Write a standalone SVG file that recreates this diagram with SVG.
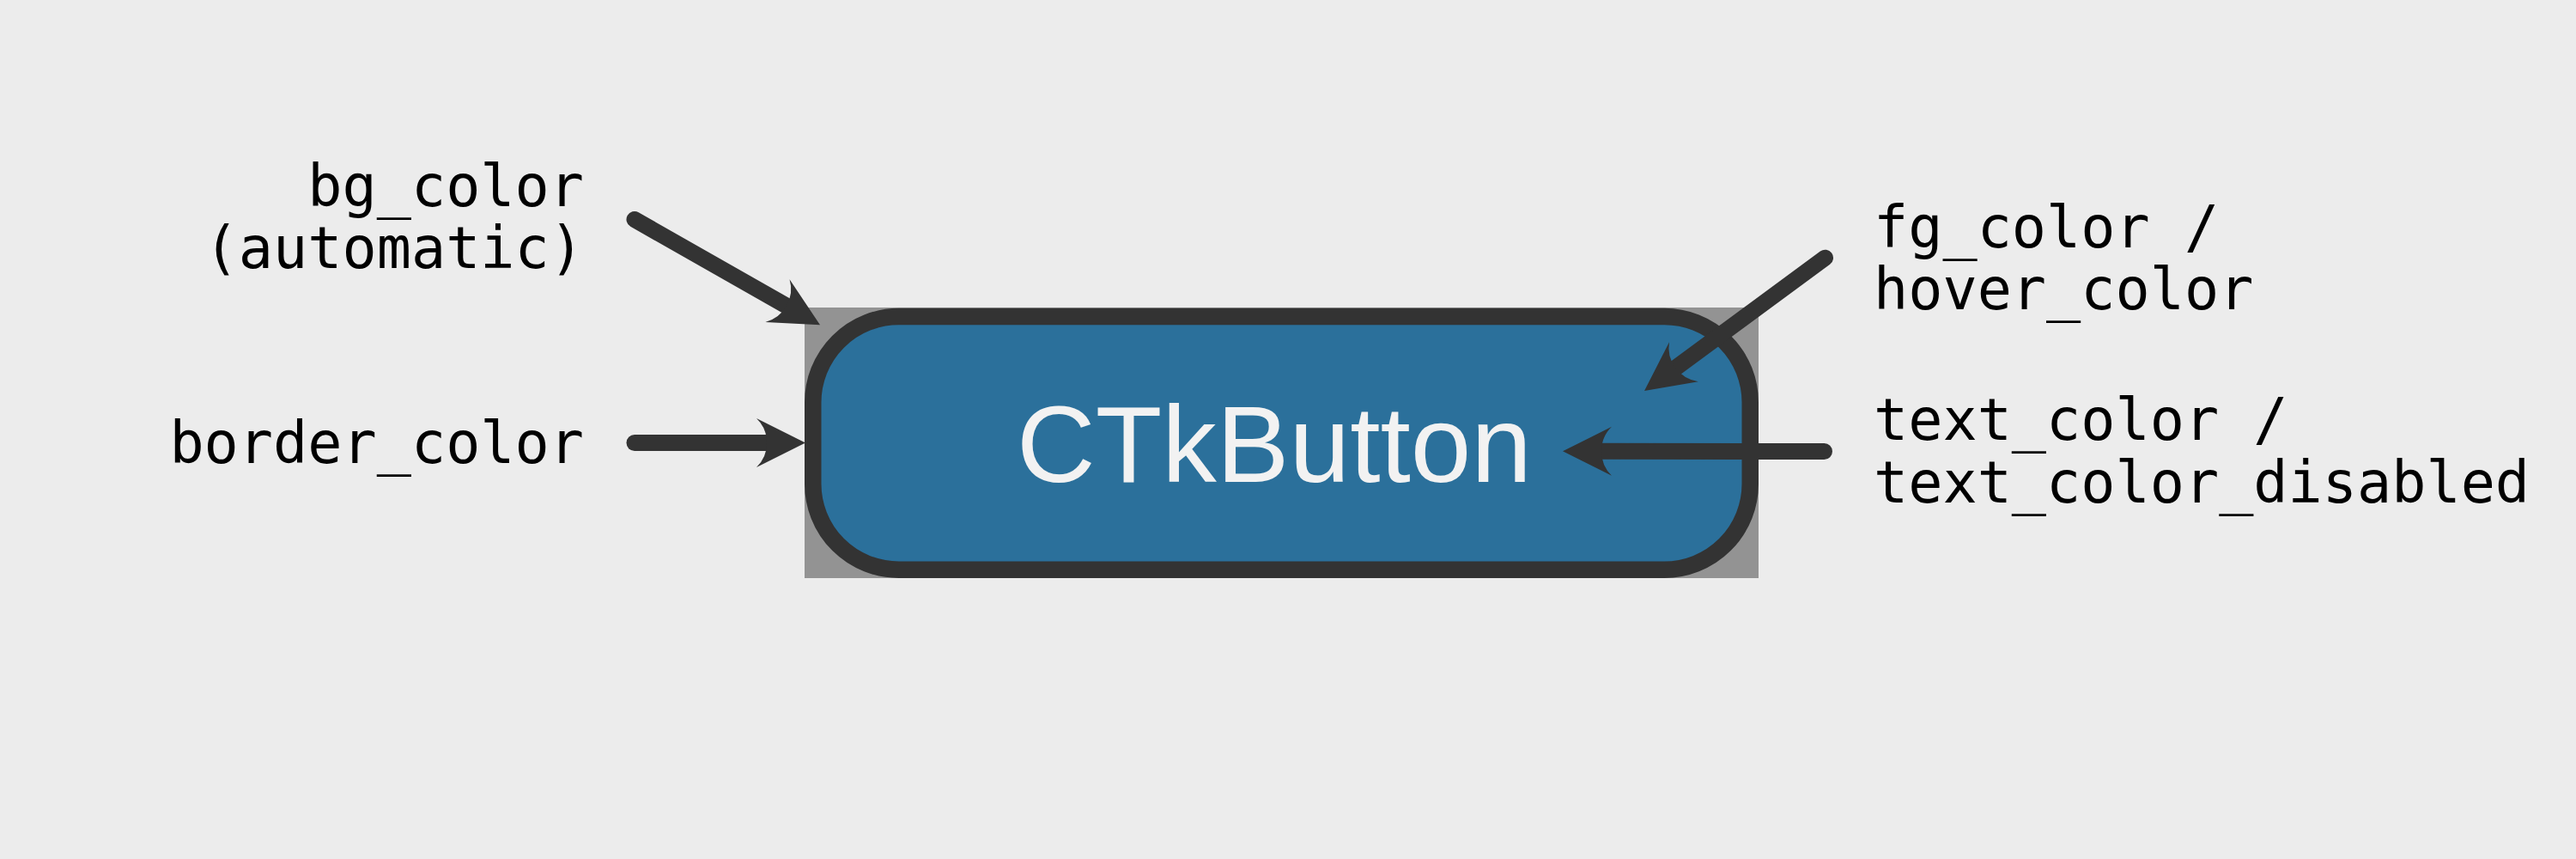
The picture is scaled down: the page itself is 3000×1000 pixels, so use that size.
<svg xmlns="http://www.w3.org/2000/svg" width="3000" height="1000" viewBox="0 0 3000 1000">
  <style>
    .label { font-family: "DejaVu Sans Mono", "Liberation Mono", monospace; font-size: 66.8px; fill: #000000; }
    .conn { fill: none; stroke: #333333; stroke-width: 19; stroke-linecap: round; }
    .title { font-family: "Liberation Sans", Arial, sans-serif; font-size: 127px; fill: #f2f2f2; }
  </style>
  <defs>
    <marker id="head" markerUnits="userSpaceOnUse" markerWidth="120" markerHeight="120" refX="0" refY="0" orient="auto" overflow="visible" viewBox="-60 -60 120 120">
      <path d="M35,0 L-22,-28.5 Q-10,-17 -10,0 Q-10,17 -22,28.5 Z" fill="#333333"/>
    </marker>
  </defs>
  <rect x="0" y="0" width="3000" height="1000" fill="#ececec"/>

  <g id="button">
    <rect x="937" y="358" width="1111" height="315" fill="#939393"/>
    <rect x="946.75" y="368.5" width="1091.5" height="294.75" rx="100" ry="100" fill="#2b709b" stroke="#333333" stroke-width="19.5"/>
    <text class="title" x="1484" y="561" text-anchor="middle">CTkButton</text>
  </g>

  <g id="label-bg">
    <text class="label" x="680" y="240" text-anchor="end">bg_color</text>
    <text class="label" x="680" y="312" text-anchor="end">(automatic)</text>
  </g>
  <g id="label-border">
    <text class="label" x="680" y="539" text-anchor="end">border_color</text>
  </g>
  <g id="label-fg">
    <text class="label" x="2182" y="288">fg_color /</text>
    <text class="label" x="2182" y="360">hover_color</text>
  </g>
  <g id="label-text">
    <text class="label" x="2182" y="512">text_color /</text>
    <text class="label" x="2182" y="585">text_color_disabled</text>
  </g>

  <g id="connectors">
    <path class="conn" d="M739,255.5 L924.6,361" marker-end="url(#head)"/>
    <path class="conn" d="M739,515.5 L903,515.5" marker-end="url(#head)"/>
    <path class="conn" d="M2125.5,300.2 L1943.2,434.3" marker-end="url(#head)"/>
    <path class="conn" d="M2124.5,525.5 L1855,525.3" marker-end="url(#head)"/>
  </g>
</svg>
